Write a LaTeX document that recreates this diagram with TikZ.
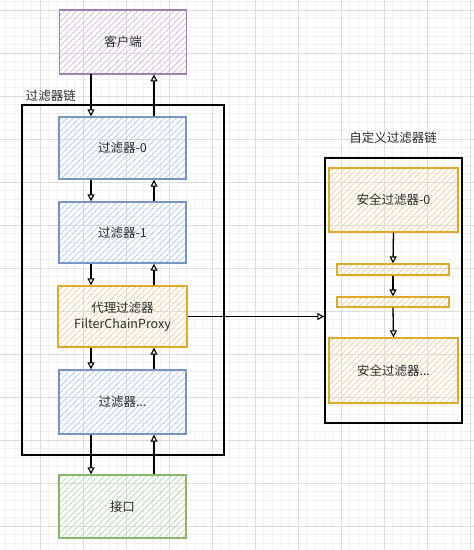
\documentclass[tikz,border=0pt]{standalone}
\usepackage{fontspec}
\setmainfont{Liberation Sans}
\newfontfamily\cjk{Noto Sans CJK SC}
\usetikzlibrary{patterns.meta,arrows.meta}
\definecolor{gridmaj}{HTML}{DCDCDC}
\definecolor{gridmin}{HTML}{F1F1F1}
\definecolor{pstroke}{HTML}{A080B0}
\definecolor{phatch}{HTML}{D5C4DE}
\definecolor{bstroke}{HTML}{7896C4}
\definecolor{bhatch}{HTML}{BDD1EC}
\definecolor{ostroke}{HTML}{DDAB28}
\definecolor{ohatch}{HTML}{F2D5A8}
\definecolor{gstroke}{HTML}{88B66A}
\definecolor{ghatch}{HTML}{C3DCB6}
\definecolor{txt}{HTML}{2B2B2B}
\tikzset{
  x=1pt,y=-1pt,
  hbox/.style={draw=#1stroke, line width=1.4pt,
    pattern={Lines[angle=45,distance=4.3pt,line width=0.9pt]}, pattern color=#1hatch,
    inner sep=0pt, font=\cjk\fontsize{12.5}{15.5}\selectfont, text=txt, align=center},
  frame/.style={draw=black, line width=1.4pt, inner sep=0pt},
  arr/.style={line width=1.3pt, -{Triangle[open,length=7pt,width=7pt,line width=1.1pt]}},
  lbl/.style={font=\cjk\fontsize{12.5}{15}\selectfont, text=txt, inner sep=0pt}
}
\begin{document}
\begin{tikzpicture}
\useasboundingbox (0,0) rectangle (474,550);
% grid
\foreach \i in {0,...,55} {
  \draw[gridmin, line width=0.5pt] ({-3+8.6*\i},0) -- ({-3+8.6*\i},550);
}
\foreach \i in {0,...,64} {
  \draw[gridmin, line width=0.5pt] (0,{10+8.6*\i-8.6}) -- (474,{10+8.6*\i-8.6});
}
\foreach \i in {0,...,11} {
  \draw[gridmaj, line width=0.7pt] ({-3+43*\i},0) -- ({-3+43*\i},550);
}
\foreach \i in {0,...,13} {
  \draw[gridmaj, line width=0.7pt] (0,{10+43*\i}) -- (474,{10+43*\i});
}
% frames
\node[frame, minimum width=202pt, minimum height=350pt] (chain) at (123,280) {};
\node[frame, minimum width=137pt, minimum height=265pt] (rchain) at (393.5,290.5) {};
\node[lbl] (chainlbl) at (51,96) {过滤器链};
\node[lbl] (rchainlbl) at (393,138) {自定义过滤器链};
% left column
\node[hbox=p, minimum width=127pt, minimum height=64pt] (client) at (123,42) {客户端};
\node[hbox=b, minimum width=127pt, minimum height=62pt] (f0) at (122.5,148) {过滤器-0};
\node[hbox=b, minimum width=127pt, minimum height=61pt] (f1) at (122.5,232.5) {过滤器-1};
\node[hbox=o, minimum width=129pt, minimum height=61pt] (proxy) at (122.5,316.5) {代理过滤器\\FilterChainProxy};
\node[hbox=b, minimum width=127pt, minimum height=64pt] (fn) at (122.5,402) {过滤器...};
\node[hbox=g, minimum width=127pt, minimum height=63pt] (api) at (122.5,506.5) {接口};
% right column
\node[hbox=o, minimum width=129pt, minimum height=64pt] (s0) at (393.5,200) {安全过滤器-0};
\node[hbox=o, minimum width=112pt, minimum height=11pt, line width=1.2pt, font=\fontsize{5}{5}\selectfont, text=gray] (bar1) at (393,269.5) {...};
\node[hbox=o, minimum width=112pt, minimum height=10pt, line width=1.2pt, font=\fontsize{5}{5}\selectfont, text=gray] (bar2) at (393,302) {...};
\node[hbox=o, minimum width=129pt, minimum height=65pt] (sn) at (393.5,370.5) {安全过滤器...};
% connectors
\coordinate (L) at (91,0);
\coordinate (R) at (154,0);
\foreach \a/\b in {client/f0, f0/f1, f1/proxy, proxy/fn, fn/api} {
  \draw[arr] (\a.south -| L) -- (\b.north -| L);
  \draw[arr] (\b.north -| R) -- (\a.south -| R);
}
\draw[arr] (proxy.east) -- (proxy.east -| rchain.west);
\draw[arr] (s0.south) -- (bar1.north);
\draw[arr] (bar1.south) -- (bar2.north);
\draw[arr] (bar2.south) -- (sn.north);
\end{tikzpicture}
\end{document}
